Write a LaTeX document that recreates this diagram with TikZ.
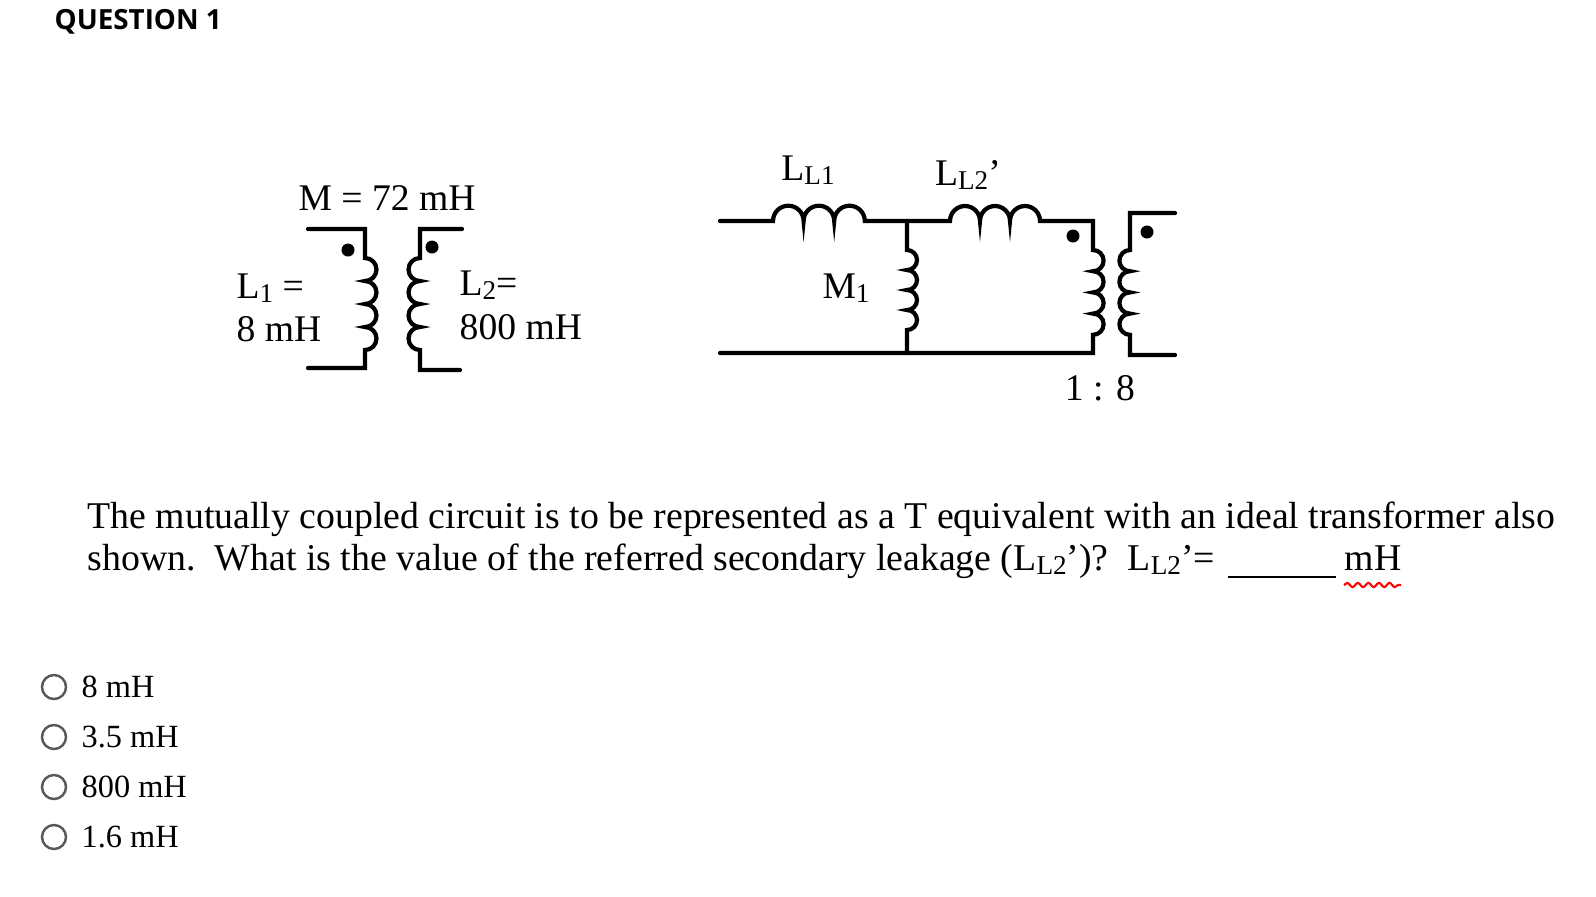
\documentclass[tikz,border=0pt]{standalone}
\usepackage{fontspec}
\setmainfont{Liberation Serif}
\newfontfamily\qfont{Open Sans}
\usetikzlibrary{decorations.pathmorphing}
\newcommand{\sbx}[1]{\raisebox{-0.25ex}{\scalebox{0.72}{#1}}}
\begin{document}
\begin{tikzpicture}[x=0.01cm,y=0.01cm,
  wire/.style={line width=1.2pt,line cap=round},
  lbl/.style={inner sep=0pt,font=\fontsize{10.7}{12}\selectfont},
  txt/.style={inner sep=0pt,anchor=base west,font=\fontsize{10.75}{12}\selectfont},
  opt/.style={inner sep=0pt,anchor=west,font=\fontsize{9.2}{11}\selectfont},
  dotc/.style={fill=black,circle,inner sep=0pt,minimum size=0.13cm},
  radio/.style={draw=gray!70!black,circle,line width=0.7pt,minimum size=0.24cm,inner sep=0pt}]
\useasboundingbox (0,0) rectangle (1596,-896);
\node[anchor=west,inner sep=0pt,font=\qfont\bfseries\fontsize{7.9}{10}\selectfont] (q) at (54,-22) {QUESTION 1};
% left transformer
\coordinate (p1) at (308,-229); \coordinate (p2) at (365,-229);
\draw[wire] (p1) -- (p2) -- (365,-258) arc(90:-90:11.5) arc(90:-90:11.5) arc(90:-90:11.5) arc(90:-90:11.5) -- (365,-368) -- (308,-368);
\draw[wire] (462,-229) -- (420,-229) -- (420,-258) arc(90:270:11.5) arc(90:270:11.5) arc(90:270:11.5) arc(90:270:11.5) -- (420,-370) -- (460,-370);
\node[dotc] (d1) at (348,-250) {};
\node[dotc] (d2) at (432,-247) {};
\node[lbl] (m) at (387,-198) {M = 72 mH};
\node[lbl,anchor=west] (l1a) at (236,-288) {L\sbx{1} =};
\node[lbl,anchor=west] (l1b) at (236,-329) {8 mH};
\node[lbl,anchor=west] (l2a) at (459,-285) {L\sbx{2}=};
\node[lbl,anchor=west] (l2b) at (459,-327) {800 mH};
% right circuit
\coordinate (j) at (907,-221);
\coordinate (jb) at (907,-353);
\draw[wire] (720,-221) -- (773,-221) arc(180:0:15.3) arc(180:0:15.3) arc(180:0:15.3) -- (j) -- (950,-221) arc(180:0:15) arc(180:0:15) arc(180:0:15) -- (1093,-221) -- (1093,-250)
  arc(90:-90:10.6) arc(90:-90:10.6) arc(90:-90:10.6) arc(90:-90:10.6) -- (1093,-353) -- (720,-353);
\draw[wire] (j) -- (907,-250) arc(90:-90:10) arc(90:-90:10) arc(90:-90:10) arc(90:-90:10) -- (jb);
\draw[wire] (1175,-213) -- (1130,-213) -- (1130,-250) arc(90:270:10.6) arc(90:270:10.6) arc(90:270:10.6) arc(90:270:10.6) -- (1130,-355) -- (1175,-355);
\node[dotc] (d3) at (1073,-236) {};
\node[dotc] (d4) at (1147,-232) {};
\node[lbl] (ll1) at (808,-170) {L\sbx{L1}};
\node[lbl] (ll2) at (968,-175) {L\sbx{L2}’};
\node[lbl] (m1) at (846,-288) {M\sbx{1}};
\node[lbl] (r) at (1100,-388) {1 : 8};
% question text
\node[txt] (t1) at (87,-528) {The mutually coupled circuit is to be represented as a T equivalent with an ideal transformer also};
\node[txt] (t2) at (87,-570) {shown.\ \ What is the value of the referred secondary leakage (L\sbx{L2}’)?\ \ L\sbx{L2}’=};
\coordinate (b1) at (1228,-577); \coordinate (b2) at (1336,-577);
\draw[line width=0.8pt] (b1) -- (b2);
\node[txt] (mh) at (1344,-570) {mH};
\draw[red,line width=0.6pt,decorate,decoration={snake,amplitude=0.6pt,segment length=3pt}] (1344,-585) -- (1401,-585);
% options
\foreach \y/\t [count=\i] in {687/8 mH,737/3.5 mH,787/800 mH,837/1.6 mH}{
  \node[radio] (c\i) at (54,-\y) {};
  \node[opt] (o\i) at (81,-\y) {\t};
}
\end{tikzpicture}
\end{document}
